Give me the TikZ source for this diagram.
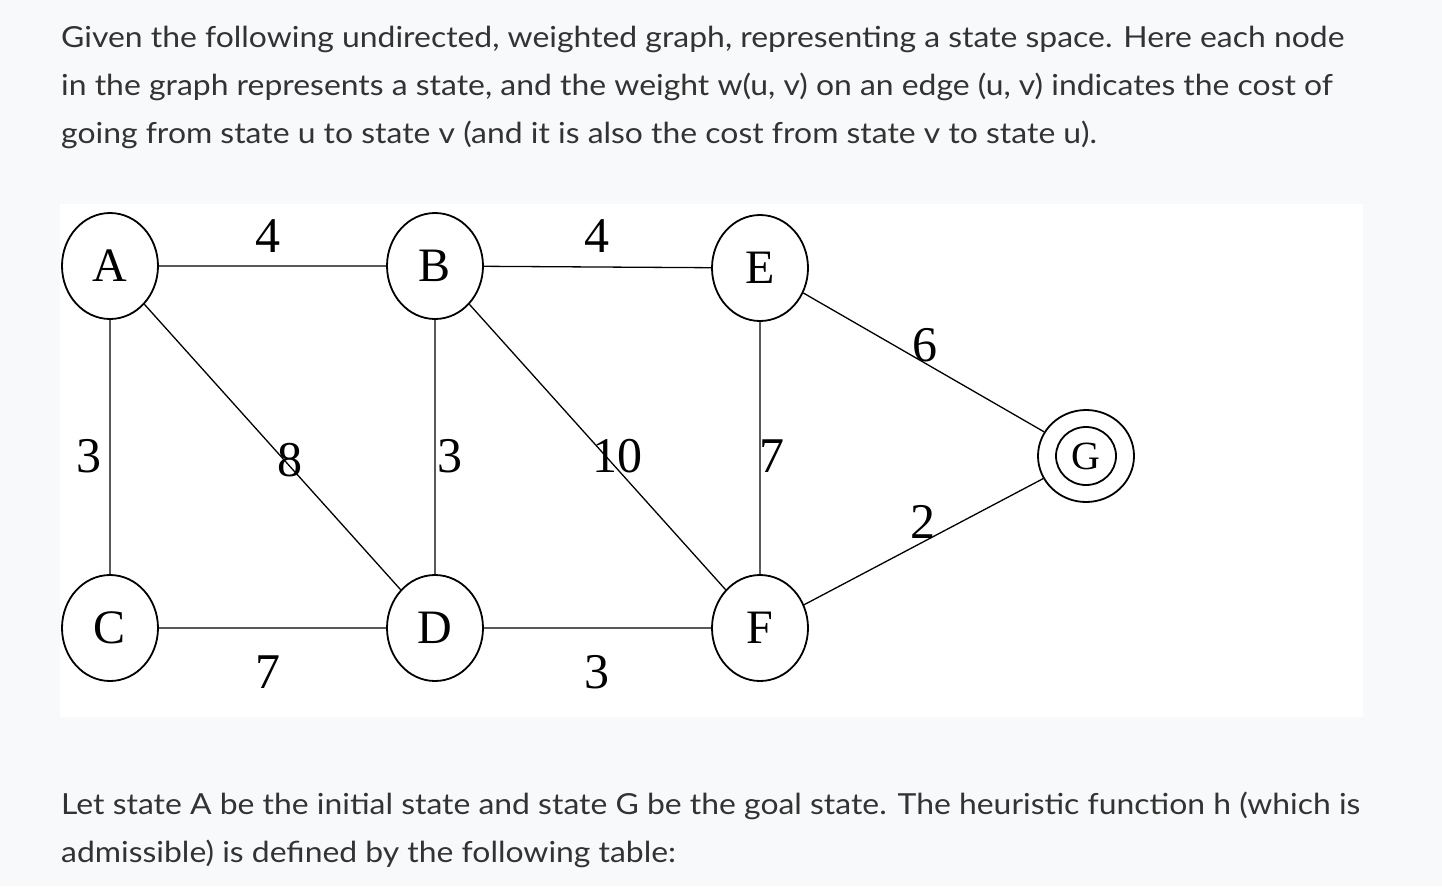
\documentclass[tikz,border=0pt]{standalone}
\usepackage{fontspec}
\setmainfont{Liberation Serif}
\newfontfamily\txtfont[FakeStretch=1.1]{Lato}
\usetikzlibrary{shapes.geometric}
\begin{document}
\begin{tikzpicture}[x=1pt,y=-1pt,
  st/.style={draw,ellipse,line width=1.8pt,minimum width=96pt,minimum height=106pt,inner sep=0pt,font=\fontsize{48}{50}\selectfont},
  ed/.style={line width=1.3pt},
  wl/.style={font=\fontsize{50}{52}\selectfont,inner sep=0pt},
  para/.style={anchor=base west,inner sep=0pt,text=black!80,font=\txtfont\fontsize{29}{34}\selectfont}]
\useasboundingbox[fill={rgb,255:red,248;green,249;blue,250}] (0,0) rectangle (1442,886);
\fill[white] (60,204) rectangle (1363,717);
\node[para] (t1) at (61,47) {Given the following undirected, weighted graph, representing a state space. Here each node};
\node[para] (t2) at (61,95) {in the graph represents a state, and the weight w(u, v) on an edge (u, v) indicates the cost of};
\node[para] (t3) at (61,143) {going from state u to state v (and it is also the cost from state v to state u).};
\node[para] (t4) at (61,814) {Let state A be the initial state and state G be the goal state. The heuristic function h (which is};
\node[para] (t5) at (61,862) {admissible) is defined by the following table:};
\node[st] (A) at (110,266) {A};
\node[st] (B) at (435,266) {B};
\node[st] (E) at (760,268) {E};
\node[st] (C) at (110,628) {C};
\node[st] (D) at (435,628) {D};
\node[st] (F) at (760,628) {F};
\node[st,minimum width=96pt,minimum height=92pt] (G) at (1086,456) {};
\node[draw,ellipse,line width=1.8pt,minimum width=60pt,minimum height=58pt,inner sep=0pt,font=\fontsize{40}{44}\selectfont] (Gi) at (1086,456) {G};
\draw[ed] (A) -- (B) (B) -- (E) (A) -- (C) (A) -- (D) (B) -- (D) (B) -- (F) (E) -- (F) (E) -- (G) (F) -- (G) (C) -- (D) (D) -- (F);
\node[wl] (w1) at (268,236) {4};
\node[wl] (w2) at (597,236) {4};
\node[wl] (w3) at (89,456) {3};
\node[wl] (w4) at (290,460) {8};
\node[wl] (w5) at (450,456) {3};
\node[wl] (w6) at (617,456) {10};
\node[wl] (w7) at (772,456) {7};
\node[wl] (w8) at (925,345) {6};
\node[wl] (w9) at (923,522) {2};
\node[wl] (w10) at (268,672) {7};
\node[wl] (w11) at (597,672) {3};
\end{tikzpicture}
\end{document}
